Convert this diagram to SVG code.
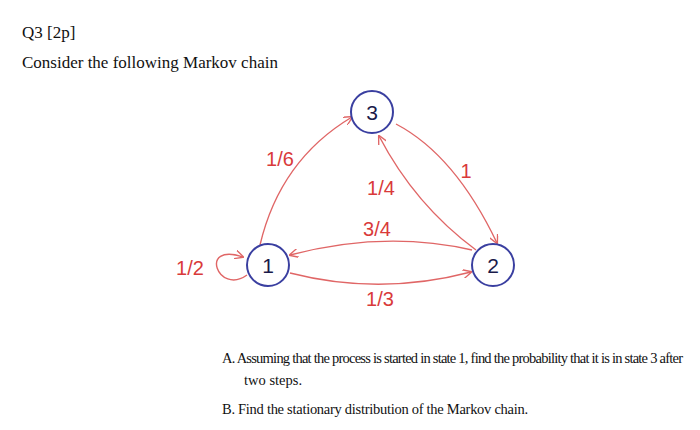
<svg xmlns="http://www.w3.org/2000/svg" width="700" height="430" viewBox="0 0 700 430">
<style>
.t{font-family:"Liberation Serif",serif;font-size:14.5px;fill:#111}
.n circle{fill:#fff;stroke:#3a3fa0;stroke-width:2}
.n text{font-family:"Liberation Sans",sans-serif;font-size:21px;fill:#1a1a4a;text-anchor:middle}
.e path{fill:none;stroke:#e06666;stroke-width:1.4}
.l{font-family:"Liberation Sans",sans-serif;font-size:20px;fill:#d93a3a;text-anchor:middle}
</style>
<defs><marker id="a" viewBox="0 0 10 10" refX="9" refY="5" markerWidth="9" markerHeight="9" markerUnits="userSpaceOnUse" orient="auto"><path d="M0,0 L10,5 L0,10" fill="none" stroke="#e06666" stroke-width="1.5"/></marker></defs>
<rect width="700" height="430" fill="#fff"/>
<text class="t" x="22" y="38" style="font-size:17px">Q3 [2p]</text>
<text class="t" x="22" y="68" style="font-size:17px">Consider the following Markov chain</text>
<g class="e">
<path d="M260,245 Q280,160 352,117" marker-end="url(#a)"/>
<path d="M396,124 Q455,155 497,243" marker-end="url(#a)"/>
<path d="M476,250 Q415,205 379,136" marker-end="url(#a)"/>
<path d="M472,250 Q385,230 290,255" marker-end="url(#a)"/>
<path d="M290,273 Q380,296 471,272" marker-end="url(#a)"/>
<path d="M247,275 C218,296 198,242 243,257" marker-end="url(#a)"/>
</g>
<g id="n3" class="n"><circle cx="372" cy="112" r="21"/><text x="372" y="120">3</text></g>
<g id="n1" class="n"><circle cx="268" cy="265" r="21"/><text x="268" y="273">1</text></g>
<g id="n2" class="n"><circle cx="493" cy="265" r="21"/><text x="493" y="273">2</text></g>
<text class="l" x="280" y="166">1/6</text>
<text class="l" x="466" y="178">1</text>
<text class="l" x="381" y="195">1/4</text>
<text class="l" x="377" y="236">3/4</text>
<text class="l" x="380" y="306">1/3</text>
<text class="l" x="190" y="275">1/2</text>
<text class="t" x="222" y="363" textLength="461" lengthAdjust="spacing">A.  Assuming that the process is started in state 1, find the probability that it is in state 3 after</text>
<text class="t" x="244" y="385">two steps.</text>
<text class="t" x="222" y="414" textLength="306" lengthAdjust="spacing">B.  Find the stationary distribution of the Markov chain.</text>
</svg>
